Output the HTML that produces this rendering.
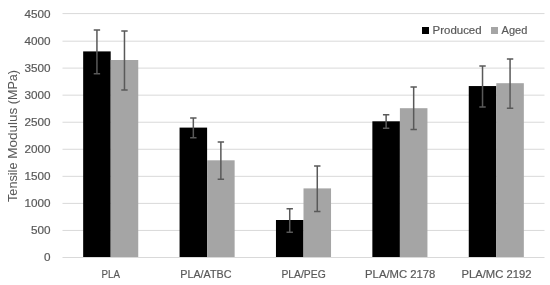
<!DOCTYPE html>
<html><head><meta charset="utf-8"><style>
html,body{margin:0;padding:0;background:#fff;width:550px;height:285px;overflow:hidden}
svg{display:block}
.ax{font-family:"Liberation Sans",Arial,sans-serif;font-size:11px;fill:#595959;stroke:#595959;stroke-width:0.2px}
.ti{font-family:"Liberation Sans",Arial,sans-serif;font-size:12px;fill:#595959}
</style></head><body>
<svg width="550" height="285" viewBox="0 0 550 285">
<rect width="550" height="285" fill="#fff"/>
<line x1="62.5" y1="230.44" x2="544.5" y2="230.44" stroke="#d9d9d9" stroke-width="1"/>
<line x1="62.5" y1="203.39" x2="544.5" y2="203.39" stroke="#d9d9d9" stroke-width="1"/>
<line x1="62.5" y1="176.33" x2="544.5" y2="176.33" stroke="#d9d9d9" stroke-width="1"/>
<line x1="62.5" y1="149.28" x2="544.5" y2="149.28" stroke="#d9d9d9" stroke-width="1"/>
<line x1="62.5" y1="122.22" x2="544.5" y2="122.22" stroke="#d9d9d9" stroke-width="1"/>
<line x1="62.5" y1="95.17" x2="544.5" y2="95.17" stroke="#d9d9d9" stroke-width="1"/>
<line x1="62.5" y1="68.11" x2="544.5" y2="68.11" stroke="#d9d9d9" stroke-width="1"/>
<line x1="62.5" y1="41.20" x2="544.5" y2="41.20" stroke="#d9d9d9" stroke-width="1"/>
<line x1="62.5" y1="13.60" x2="544.5" y2="13.60" stroke="#d9d9d9" stroke-width="1"/>
<text x="50.6" y="261.30" text-anchor="end" class="ax" textLength="6.53" lengthAdjust="spacingAndGlyphs">0</text>
<text x="50.6" y="234.24" text-anchor="end" class="ax" textLength="19.59" lengthAdjust="spacingAndGlyphs">500</text>
<text x="50.6" y="207.19" text-anchor="end" class="ax" textLength="26.12" lengthAdjust="spacingAndGlyphs">1000</text>
<text x="50.6" y="180.13" text-anchor="end" class="ax" textLength="26.12" lengthAdjust="spacingAndGlyphs">1500</text>
<text x="50.6" y="153.08" text-anchor="end" class="ax" textLength="26.12" lengthAdjust="spacingAndGlyphs">2000</text>
<text x="50.6" y="126.02" text-anchor="end" class="ax" textLength="26.12" lengthAdjust="spacingAndGlyphs">2500</text>
<text x="50.6" y="98.97" text-anchor="end" class="ax" textLength="26.12" lengthAdjust="spacingAndGlyphs">3000</text>
<text x="50.6" y="71.91" text-anchor="end" class="ax" textLength="26.12" lengthAdjust="spacingAndGlyphs">3500</text>
<text x="50.6" y="44.86" text-anchor="end" class="ax" textLength="26.12" lengthAdjust="spacingAndGlyphs">4000</text>
<text x="50.6" y="17.80" text-anchor="end" class="ax" textLength="26.12" lengthAdjust="spacingAndGlyphs">4500</text>
<rect x="83.16" y="51.40" width="27.54" height="206.10" fill="#000000"/>
<rect x="110.70" y="60.00" width="27.54" height="197.50" fill="#a5a5a5"/>
<rect x="179.56" y="127.60" width="27.54" height="129.90" fill="#000000"/>
<rect x="207.10" y="160.30" width="27.54" height="97.20" fill="#a5a5a5"/>
<rect x="275.96" y="220.00" width="27.54" height="37.50" fill="#000000"/>
<rect x="303.50" y="188.40" width="27.54" height="69.10" fill="#a5a5a5"/>
<rect x="372.36" y="121.30" width="27.54" height="136.20" fill="#000000"/>
<rect x="399.90" y="108.20" width="27.54" height="149.30" fill="#a5a5a5"/>
<rect x="468.76" y="86.05" width="27.54" height="171.45" fill="#000000"/>
<rect x="496.30" y="83.20" width="27.54" height="174.30" fill="#a5a5a5"/>
<line x1="62.5" y1="257.50" x2="544.5" y2="257.50" stroke="#d9d9d9" stroke-width="1"/>
<path d="M96.93 29.90V73.80M93.73 29.90H100.13M93.73 73.80H100.13" stroke="#595959" stroke-width="1.5" fill="none"/>
<path d="M124.47 30.90V90.10M121.27 30.90H127.67M121.27 90.10H127.67" stroke="#595959" stroke-width="1.5" fill="none"/>
<path d="M193.33 117.90V137.70M190.13 117.90H196.53M190.13 137.70H196.53" stroke="#595959" stroke-width="1.5" fill="none"/>
<path d="M220.87 142.10V179.30M217.67 142.10H224.07M217.67 179.30H224.07" stroke="#595959" stroke-width="1.5" fill="none"/>
<path d="M289.73 208.70V232.30M286.53 208.70H292.93M286.53 232.30H292.93" stroke="#595959" stroke-width="1.5" fill="none"/>
<path d="M317.27 166.00V211.50M314.07 166.00H320.47M314.07 211.50H320.47" stroke="#595959" stroke-width="1.5" fill="none"/>
<path d="M386.13 114.80V128.20M382.93 114.80H389.33M382.93 128.20H389.33" stroke="#595959" stroke-width="1.5" fill="none"/>
<path d="M413.67 86.90V129.40M410.47 86.90H416.87M410.47 129.40H416.87" stroke="#595959" stroke-width="1.5" fill="none"/>
<path d="M482.53 66.10V107.10M479.33 66.10H485.73M479.33 107.10H485.73" stroke="#595959" stroke-width="1.5" fill="none"/>
<path d="M510.07 59.00V108.20M506.87 59.00H513.27M506.87 108.20H513.27" stroke="#595959" stroke-width="1.5" fill="none"/>
<text x="110.80" y="278.3" text-anchor="middle" class="ax" textLength="18.41" lengthAdjust="spacingAndGlyphs">PLA</text>
<text x="205.85" y="278.3" text-anchor="middle" class="ax" textLength="51.22" lengthAdjust="spacingAndGlyphs">PLA/ATBC</text>
<text x="303.55" y="278.3" text-anchor="middle" class="ax" textLength="44.25" lengthAdjust="spacingAndGlyphs">PLA/PEG</text>
<text x="400.20" y="278.3" text-anchor="middle" class="ax" textLength="70.20" lengthAdjust="spacingAndGlyphs">PLA/MC 2178</text>
<text x="496.50" y="278.3" text-anchor="middle" class="ax" textLength="69.99" lengthAdjust="spacingAndGlyphs">PLA/MC 2192</text>
<rect x="422" y="27" width="7" height="7" fill="#000000"/>
<text x="432.6" y="33.7" class="ax" textLength="49" lengthAdjust="spacingAndGlyphs">Produced</text>
<rect x="491" y="27" width="7" height="7" fill="#a5a5a5"/>
<text x="501.6" y="33.7" class="ax">Aged</text>
<g transform="translate(17.0 0) rotate(-90)" class="ti"><text x="-202.0" y="0" textLength="39.5" lengthAdjust="spacingAndGlyphs">Tensile</text><text x="-158.7" y="0" textLength="51.0" lengthAdjust="spacingAndGlyphs">Modulus</text><text x="-104.2" y="0" textLength="34.1" lengthAdjust="spacingAndGlyphs">(MPa)</text></g>
</svg>
</body></html>
